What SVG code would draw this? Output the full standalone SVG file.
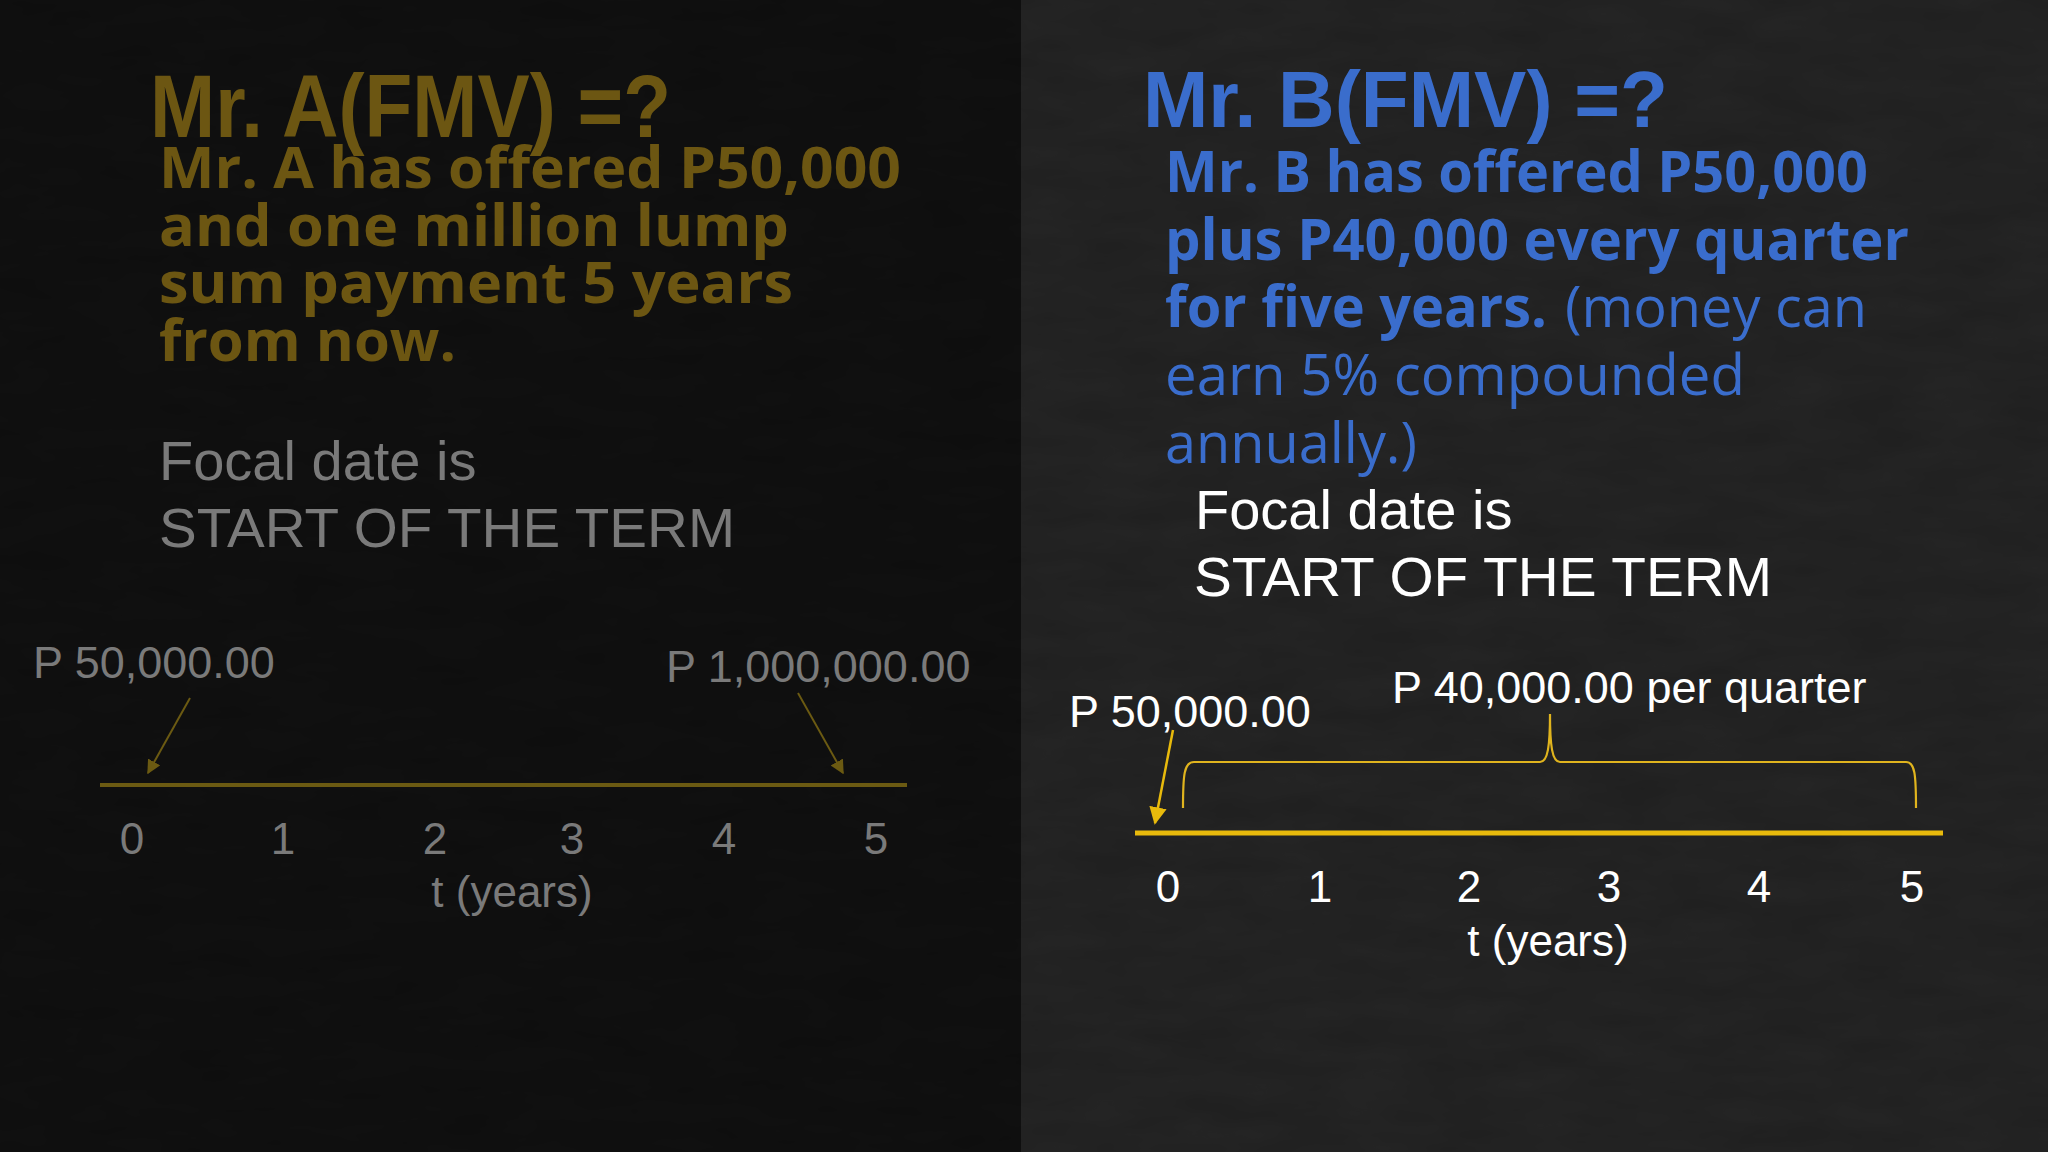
<svg xmlns="http://www.w3.org/2000/svg" width="2048" height="1152" viewBox="0 0 2048 1152">
  <defs>
    <style>
      .title { font-family: "Liberation Sans", Arial, sans-serif; font-weight: bold; }
      .body { font-family: "Open Sans", "Noto Sans", sans-serif; font-weight: bold; font-size: 57px; }
      .reg { font-family: "Open Sans", "Noto Sans", sans-serif; font-weight: normal; }
      .sans { font-family: "Liberation Sans", Arial, sans-serif; }
      .gold { fill: #6c5612; }
      .blue { fill: #3a6dcc; }
      .grey { fill: #7a7a7a; }
      .white { fill: #ffffff; }
      .lbl { font-size: 45px; }
      .tick { font-size: 44px; text-anchor: middle; }
      .focal { font-size: 56px; }
    </style>
    <marker id="arrGold" viewBox="0 0 10 10" refX="9" refY="5" markerWidth="7" markerHeight="7" markerUnits="strokeWidth" orient="auto">
      <path d="M0,0 L10,5 L0,10 z" fill="#6b5a12"/>
    </marker>
    <marker id="arrYellow" viewBox="0 0 10 10" refX="9" refY="5" markerWidth="7" markerHeight="7" markerUnits="strokeWidth" orient="auto">
      <path d="M0,0 L10,5 L0,10 z" fill="#e8ba0c"/>
    </marker>
    <filter id="noise" x="0" y="0" width="100%" height="100%">
      <feTurbulence type="fractalNoise" baseFrequency="0.012 0.04" numOctaves="3" seed="4"/>
      <feColorMatrix type="matrix" values="0 0 0 0 0.5  0 0 0 0 0.5  0 0 0 0 0.5  0 0 0 0.35 0"/>
    </filter>
  </defs>

  <!-- backgrounds -->
  <rect x="0" y="0" width="1021" height="1152" fill="#0e0e0e"/>
  <rect x="1021" y="0" width="1027" height="1152" fill="#1f1f1f"/>
  <rect x="1021" y="0" width="1027" height="1152" filter="url(#noise)" opacity="0.12"/>
  <rect x="0" y="0" width="1021" height="1152" filter="url(#noise)" opacity="0.05"/>

  <!-- Left panel: Mr. A -->
  <g id="titleA">
    <text class="title gold" x="150" y="137" font-size="89" textLength="521" lengthAdjust="spacingAndGlyphs">Mr. A(FMV) =?</text>
  </g>
  <g id="descA">
    <text class="body gold" x="159" y="188" textLength="742" lengthAdjust="spacingAndGlyphs">Mr. A has offered P50,000</text>
    <text class="body gold" x="159" y="246" textLength="630" lengthAdjust="spacingAndGlyphs">and one million lump</text>
    <text class="body gold" x="159" y="303" textLength="634" lengthAdjust="spacingAndGlyphs">sum payment 5 years</text>
    <text class="body gold" x="159" y="361" textLength="297" lengthAdjust="spacingAndGlyphs">from now.</text>
  </g>
  <g id="focalA">
    <text class="sans grey focal" x="159" y="480">Focal date is</text>
    <text class="sans grey focal" x="159" y="547" textLength="576" lengthAdjust="spacingAndGlyphs">START OF THE TERM</text>
  </g>
  <g id="timelineA">
    <line x1="100" y1="785" x2="907" y2="785" stroke="#6b5a12" stroke-width="4"/>
    <text class="sans grey lbl" x="33" y="678">P 50,000.00</text>
    <text class="sans grey lbl" x="666" y="682">P 1,000,000.00</text>
    <text class="sans grey tick" x="132" y="854">0</text>
    <text class="sans grey tick" x="283" y="854">1</text>
    <text class="sans grey tick" x="435" y="854">2</text>
    <text class="sans grey tick" x="572" y="854">3</text>
    <text class="sans grey tick" x="724" y="854">4</text>
    <text class="sans grey tick" x="876" y="854">5</text>
    <text class="sans grey tick" x="512" y="907">t (years)</text>
  </g>
  <g id="connectorsA">
    <line x1="190" y1="698" x2="148" y2="773" stroke="#6b5a12" stroke-width="2" marker-end="url(#arrGold)"/>
    <line x1="798" y1="693" x2="843" y2="773" stroke="#6b5a12" stroke-width="2" marker-end="url(#arrGold)"/>
  </g>

  <!-- Right panel: Mr. B -->
  <g id="titleB">
    <text class="title blue" x="1143" y="127" font-size="80" textLength="525" lengthAdjust="spacingAndGlyphs">Mr. B(FMV) =?</text>
  </g>
  <g id="descB">
    <text class="body blue" x="1165" y="192" textLength="703" lengthAdjust="spacingAndGlyphs">Mr. B has offered P50,000</text>
    <text class="body blue" x="1165" y="260" textLength="744" lengthAdjust="spacingAndGlyphs">plus P40,000 every quarter</text>
    <text class="body blue" x="1165" y="327" textLength="382" lengthAdjust="spacingAndGlyphs">for five years.</text>
    <text class="reg blue" x="1565" y="327" font-size="56" textLength="302" lengthAdjust="spacingAndGlyphs">(money can</text>
    <text class="reg blue" x="1165" y="395" font-size="56" textLength="580" lengthAdjust="spacingAndGlyphs">earn 5% compounded</text>
    <text class="reg blue" x="1165" y="463" font-size="56" textLength="252" lengthAdjust="spacingAndGlyphs">annually.)</text>
  </g>
  <g id="focalB">
    <text class="sans white focal" x="1195" y="529">Focal date is</text>
    <text class="sans white focal" x="1194" y="596" textLength="578" lengthAdjust="spacingAndGlyphs">START OF THE TERM</text>
  </g>
  <g id="timelineB">
    <line x1="1135" y1="833" x2="1943" y2="833" stroke="#e8ba0c" stroke-width="5"/>
    <text class="sans white lbl" x="1069" y="727">P 50,000.00</text>
    <text class="sans white lbl" x="1392" y="703">P 40,000.00 per quarter</text>
    <text class="sans white tick" x="1168" y="902">0</text>
    <text class="sans white tick" x="1320" y="902">1</text>
    <text class="sans white tick" x="1469" y="902">2</text>
    <text class="sans white tick" x="1609" y="902">3</text>
    <text class="sans white tick" x="1759" y="902">4</text>
    <text class="sans white tick" x="1912" y="902">5</text>
    <text class="sans white tick" x="1548" y="956">t (years)</text>
  </g>
  <g id="connectorsB" fill="none">
    <line x1="1173" y1="730" x2="1155" y2="823" stroke="#e8ba0c" stroke-width="2.5" marker-end="url(#arrYellow)"/>
    <path d="M1183,808 C1183,775 1184,762 1194,762 L1540,762 C1548,762 1550,745 1550,714 C1550,745 1552,762 1560,762 L1906,762 C1915,762 1916,775 1916,808" stroke="#e0b41e" stroke-width="2.2"/>
  </g>
</svg>
